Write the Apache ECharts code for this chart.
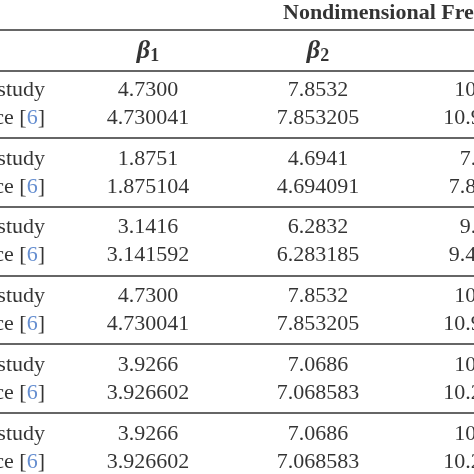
<!DOCTYPE html>
<html><head><meta charset="utf-8">
<script src="https://cdn.jsdelivr.net/npm/echarts@6/dist/echarts.min.js"></script>
<style>html,body{margin:0;padding:0;background:#fff}#c{width:474px;height:474px}</style>
</head><body><div id="c"></div>
<script>
const title = "Nondimensional Frequency Parameters";
const columnHeads = ["1", "2", "3"];
const rowLabels = ["Present study", "Reference [6]"];
const beta1 = [["4.7300","4.730041"],["1.8751","1.875104"],["3.1416","3.141592"],["4.7300","4.730041"],["3.9266","3.926602"],["3.9266","3.926602"]];
const beta2 = [["7.8532","7.853205"],["4.6941","4.694091"],["6.2832","6.283185"],["7.8532","7.853205"],["7.0686","7.068583"],["7.0686","7.068583"]];
const beta3 = [["10.9956","10.995608"],["7.8548","7.854757"],["9.4248","9.424778"],["10.9956","10.995608"],["10.2102","10.210176"],["10.2102","10.210176"]];

const G0 = 90, GP = 68.8, SUB = 28;
const colX = [45, 148, 318, 490];
const rowY = (g, s) => G0 + g * GP + s * SUB;
const font = "'Liberation Serif', 'DejaVu Serif', serif";

const cells = [];
const cols = [beta1, beta2, beta3];
for (let g = 0; g < beta1.length; g++) {
  for (let s = 0; s < 2; s++) {
    cells.push({value: [colX[0], rowY(g, s)], label: {show: true, position: 'inside', align: 'right',
      formatter: s === 0 ? '{t|' + rowLabels[0] + '}' : '{t|Reference [}{r|6}{t|]}'}});
    cols.forEach((c, ci) => cells.push({value: [colX[ci + 1], rowY(g, s)], label: {show: true, position: 'inside', align: 'center', formatter: '{t|' + c[g][s] + '}'}}));
  }
}
const heads = columnHeads.map((h, i) => ({value: [colX[i + 1], 51], label: {show: true, position: 'inside', align: 'center',
  formatter: '{b|β}{s|' + h + '}'}}));
const titleCell = [{value: [283, 13], label: {show: true, position: 'inside', align: 'left', formatter: '{h|' + title + '}'}}];
const lines = [30, 71, 138, 207, 276, 344, 413];

const chart = echarts.init(document.getElementById('c'));
chart.setOption({
  animation: false,
  grid: {left: 0, right: 0, top: 0, bottom: 0},
  xAxis: {type: 'value', min: 0, max: 474, show: false},
  yAxis: {type: 'value', min: 0, max: 474, inverse: true, show: false},
  textStyle: {fontFamily: font},
  series: [{
    type: 'scatter', symbolSize: 0, silent: true, clip: false,
    data: cells.concat(heads, titleCell),
    label: {color: '#000', fontSize: 22, fontFamily: font,
      rich: {t: {fontSize: 22, color: '#000', fontFamily: font},
             h: {fontSize: 22, fontWeight: 'bold', color: '#000', fontFamily: font},
             r: {fontSize: 22, color: '#3f72c4', fontFamily: font},
             b: {fontSize: 26, fontWeight: 'bold', fontStyle: 'italic', color: '#000', fontFamily: font},
             s: {fontSize: 18, fontWeight: 'bold', color: '#000', fontFamily: font, padding: [10, 0, 0, 0]}}},
    markLine: {symbol: 'none', silent: true, label: {show: false},
      lineStyle: {color: '#333', width: 1.5, type: 'solid'},
      data: lines.map(y => ({yAxis: y}))}
  }]
});
</script></body></html>
